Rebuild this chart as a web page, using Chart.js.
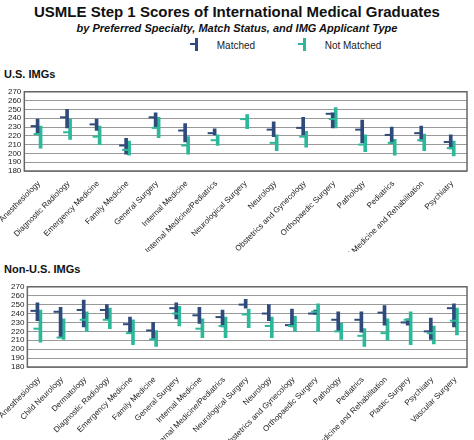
<!DOCTYPE html>
<html>
<head>
<meta charset="utf-8">
<script src="https://cdn.jsdelivr.net/npm/chart.js@4"></script>
<style>
  body { margin: 0; width: 474px; height: 440px; background: #fff; font-family: "Liberation Sans", Arial, sans-serif; position: relative; overflow: hidden; }
  .title { position: absolute; top: 3px; width: 474px; text-align: center; font-weight: bold; font-size: 15px; color: #111; }
  .sub { position: absolute; top: 22px; width: 474px; text-align: center; font-weight: bold; font-style: italic; font-size: 11px; color: #111; }
  .legend { position: absolute; top: 38px; left: 190px; font-size: 10px; color: #222; }
  .legend span { display: inline-block; vertical-align: middle; }
  .panel { position: absolute; left: 4px; font-weight: bold; font-size: 11px; color: #111; }
  canvas { position: absolute; left: 0; }
</style>
</head>
<body>
<div class="title">USMLE Step 1 Scores of International Medical Graduates</div>
<div class="sub">by Preferred Specialty, Match Status, and IMG Applicant Type</div>
<div class="legend">
  <span style="width:10px;height:14px;position:relative"><i style="position:absolute;left:5px;top:0;width:3px;height:13px;background:#2f4b7c"></i><i style="position:absolute;left:0;top:5px;width:5px;height:2px;background:#2f4b7c"></i></span>
  <span style="margin:0 40px 0 14px">Matched</span>
  <span style="width:10px;height:14px;position:relative"><i style="position:absolute;left:5px;top:0;width:3px;height:13px;background:#2cb99a"></i><i style="position:absolute;left:0;top:5px;width:5px;height:2px;background:#2cb99a"></i></span>
  <span style="margin-left:14px">Not Matched</span>
</div>
<div class="panel" style="top:68px">U.S. IMGs</div>
<div class="panel" style="top:263px">Non-U.S. IMGs</div>
<div style="position:absolute;top:84px;left:0;width:474px;height:168px"><canvas id="usChart"></canvas></div>
<div style="position:absolute;top:279px;left:0;width:474px;height:170px"><canvas id="nonUsChart"></canvas></div>
<script>
// U.S. IMGs
const usLabels = ["Anesthesiology", "Diagnostic Radiology", "Emergency Medicine", "Family Medicine",
  "General Surgery", "Internal Medicine", "Internal Medicine/Pediatrics", "Neurological Surgery",
  "Neurology", "Obstetrics and Gynecology", "Orthopaedic Surgery", "Pathology", "Pediatrics",
  "Physical Medicine and Rehabilitation", "Psychiatry"];
const usMatchedLow  = [223, 229, 226, 199, 229, 213, 221, null, 219, 221, 229, 212, 211, 214, 205];
const usMatchedHigh = [239, 250, 239, 217, 246, 234, 228, null, 236, 241, 246, 238, 230, 231, 221];
const usMatchedMean = [231, 241, 233, 209, 241, 226, 223, null, 227, 229, 245, 227, 221, 223, 213];
const usNotLow  = [206, 216, 210, 198, 218, 199, 209, 228, 203, 207, 229, 202, 198, 203, 197];
const usNotHigh = [231, 239, 231, 214, 241, 219, 221, 244, 221, 225, 252, 221, 216, 222, 214];
const usNotMean = [222, 224, 219, 204, 229, 209, 215, 239, 212, 219, 239, 210, 212, 215, 206];

// Non-U.S. IMGs
const nonLabels = ["Anesthesiology", "Child Neurology", "Dermatology", "Diagnostic Radiology",
  "Emergency Medicine", "Family Medicine", "General Surgery", "Internal Medicine",
  "Internal Medicine/Pediatrics", "Neurological Surgery", "Neurology", "Obstetrics and Gynecology",
  "Orthopaedic Surgery", "Pathology", "Pediatrics", "Physical Medicine and Rehabilitation",
  "Plastic Surgery", "Psychiatry", "Vascular Surgery"];
const nonMatchedLow  = [232, 213, 225, 234, 218, 211, 234, 229, 225, 246, 232, 225, 239, 220, 219, 227, 227, 211, 225];
const nonMatchedHigh = [252, 247, 255, 250, 236, 230, 252, 247, 244, 256, 250, 245, 244, 242, 242, 249, 234, 235, 251];
const nonMatchedMean = [243, 242, 244, 244, 228, 221, 246, 238, 236, 250, 240, 227, 240, 233, 233, 241, 230, 220, 246];
const nonNotLow  = [208, 211, 220, 223, 205, 203, 226, 213, 213, 224, 213, 220, 220, 211, 203, 210, 205, 206, 216];
const nonNotHigh = [244, 234, 242, 246, 233, 221, 248, 234, 236, 245, 236, 237, 251, 229, 223, 234, 242, 226, 246];
const nonNotMean = [223, 213, 233, 233, 218, 211, 240, 223, 226, 239, 226, 226, 242, 220, 215, 218, 233, 218, 232];

const matchedColor = "#2f4b7c";
const notColor = "#2cb99a";

function ranges(low, high) {
  return low.map((v, i) => (v == null ? null : [v, high[i]]));
}

// draws the mean tick to the left of each bar, using the bar element and y scale
const meanTicks = {
  id: "meanTicks",
  afterDatasetsDraw(chart) {
    const ctx = chart.ctx;
    const y = chart.scales.y;
    chart.data.datasets.forEach((ds, di) => {
      const meta = chart.getDatasetMeta(di);
      meta.data.forEach((bar, i) => {
        const m = ds.means[i];
        if (m == null) return;
        const py = y.getPixelForValue(m);
        ctx.save();
        ctx.fillStyle = ds.backgroundColor;
        ctx.fillRect(bar.x - 7, py - 1, 7, 2);
        ctx.restore();
      });
    });
  }
};

const frame = {
  id: "frame",
  afterDraw(chart) {
    const a = chart.chartArea;
    const ctx = chart.ctx;
    ctx.save();
    ctx.strokeStyle = "#666";
    ctx.lineWidth = 1.5;
    ctx.strokeRect(a.left, a.top, a.right - a.left, a.bottom - a.top);
    ctx.restore();
  }
};

Chart.defaults.font.family = "'Liberation Sans', Arial, sans-serif";
Chart.defaults.font.size = 8;
Chart.defaults.color = "#222";

function makeChart(id, labels, mLow, mHigh, mMean, nLow, nHigh, nMean, catPct) {
  return new Chart(document.getElementById(id), {
    type: "bar",
    data: {
      labels: labels,
      datasets: [
        { label: "Matched", data: ranges(mLow, mHigh), means: mMean, backgroundColor: matchedColor, barThickness: 3 },
        { label: "Not Matched", data: ranges(nLow, nHigh), means: nMean, backgroundColor: notColor, barThickness: 3 }
      ]
    },
    options: {
      responsive: true,
      maintainAspectRatio: false,
      animation: false,
      categoryPercentage: catPct,
      barPercentage: 1,
      layout: { padding: { top: 6, right: 7, left: 2 } },
      plugins: { legend: { display: false }, tooltip: { enabled: false } },
      scales: {
        x: {
          grid: { display: false },
          border: { display: false },
          ticks: { minRotation: 45, maxRotation: 45, autoSkip: false, padding: 0 }
        },
        y: {
          min: 180, max: 270,
          border: { display: false },
          grid: { color: "#999", borderDash: [1, 1], drawTicks: false },
          ticks: { stepSize: 10, padding: 3, autoSkip: false }
        }
      }
    },
    plugins: [meanTicks, frame]
  });
}

makeChart("usChart", usLabels, usMatchedLow, usMatchedHigh, usMatchedMean, usNotLow, usNotHigh, usNotMean, 0.34);
makeChart("nonUsChart", nonLabels, nonMatchedLow, nonMatchedHigh, nonMatchedMean, nonNotLow, nonNotHigh, nonNotMean, 0.45);
</script>
</body>
</html>
